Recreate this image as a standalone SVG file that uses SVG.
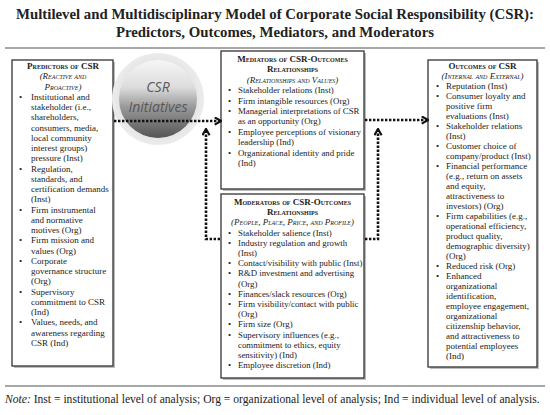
<svg xmlns="http://www.w3.org/2000/svg" width="550" height="415" viewBox="0 0 550 415">
<defs>
<style>
.t{font-family:"Liberation Serif","Times New Roman",serif;font-size:9px;fill:#222}
.m{font-size:8.8px}
.h{font-weight:bold;font-variant:small-caps;text-anchor:middle}
.s{font-style:italic;font-variant:small-caps;text-anchor:middle}
.box{fill:#fff;stroke:#333;stroke-width:1.3}
.sh{fill:#bdbdbd}
.dot{stroke:#111;stroke-width:2.6;stroke-dasharray:2.4 1.6;fill:none}
.rule{stroke:#8a8a8a;stroke-width:1.6}
.ttl{font-family:"Liberation Serif","Times New Roman",serif;font-size:14.8px;font-weight:bold;fill:#222;text-anchor:middle}
.ci{font-family:"Open Sans","Liberation Sans",sans-serif;font-size:14px;font-style:italic;fill:#585858;text-anchor:middle}
</style>
<linearGradient id="sph" x1="0" y1="0" x2="0" y2="1">
<stop offset="0" stop-color="#f6f6f6"/>
<stop offset="0.35" stop-color="#dcdcdc"/>
<stop offset="0.6" stop-color="#9a9a9a"/>
<stop offset="1" stop-color="#555"/>
</linearGradient>
<radialGradient id="ring" cx="0.5" cy="0.5" r="0.5">
<stop offset="0.8" stop-color="#e4e4e4"/>
<stop offset="1" stop-color="#ececec"/>
</radialGradient>
<marker id="arr" viewBox="0 0 10 10" refX="8.5" refY="5" markerWidth="9" markerHeight="9" markerUnits="userSpaceOnUse" orient="auto">
<path d="M1.5,1 L8.5,5 L1.5,9" fill="none" stroke="#111" stroke-width="2.4"/>
</marker>
</defs>
<rect width="550" height="415" fill="#fff"/>
<g id="title">
<text class="ttl" x="275" y="19">Multilevel and Multidisciplinary Model of Corporate Social Responsibility (CSR):</text>
<text class="ttl" x="275" y="37">Predictors, Outcomes, Mediators, and Moderators</text>
<line class="rule" x1="5" y1="48" x2="545" y2="48"/>
</g>
<g id="predictors">
<rect class="sh" x="14" y="62" width="101" height="306"/>
<rect class="box" x="12" y="60" width="101" height="306"/>
<text class="t h" x="63" y="69">Predictors of CSR</text>
<text class="t s" x="63" y="79.25">(Reactive and</text>
<text class="t s" x="63" y="89.5">Proactive)</text>
<text class="t"><tspan x="19" y="99.75">•</tspan><tspan x="19" y="171.5">•</tspan><tspan x="19" y="212.5">•</tspan><tspan x="19" y="243.25">•</tspan><tspan x="19" y="263.75">•</tspan><tspan x="19" y="294.5">•</tspan><tspan x="19" y="325.25">•</tspan></text>
<text class="t"><tspan x="31" y="99.75">Institutional and</tspan><tspan x="31" y="110">stakeholder (i.e.,</tspan><tspan x="31" y="120.25">shareholders,</tspan><tspan x="31" y="130.5">consumers, media,</tspan><tspan x="31" y="140.75">local community</tspan><tspan x="31" y="151">interest groups)</tspan><tspan x="31" y="161.25">pressure (Inst)</tspan><tspan x="31" y="171.5">Regulation,</tspan><tspan x="31" y="181.75">standards, and</tspan><tspan x="31" y="192">certification demands</tspan><tspan x="31" y="202.25">(Inst)</tspan><tspan x="31" y="212.5">Firm instrumental</tspan><tspan x="31" y="222.75">and normative</tspan><tspan x="31" y="233">motives (Org)</tspan><tspan x="31" y="243.25">Firm mission and</tspan><tspan x="31" y="253.5">values (Org)</tspan><tspan x="31" y="263.75">Corporate</tspan><tspan x="31" y="274">governance structure</tspan><tspan x="31" y="284.25">(Org)</tspan><tspan x="31" y="294.5">Supervisory</tspan><tspan x="31" y="304.75">commitment to CSR</tspan><tspan x="31" y="315">(Ind)</tspan><tspan x="31" y="325.25">Values, needs, and</tspan><tspan x="31" y="335.5">awareness regarding</tspan><tspan x="31" y="345.75">CSR (Ind)</tspan></text>
</g>
<g id="csr-initiatives">
<circle cx="158" cy="99" r="46" fill="url(#ring)"/>
<circle cx="158" cy="99" r="39" fill="url(#sph)"/>
<text class="ci" x="158" y="92">CSR</text>
<text class="ci" x="158" y="112">Initiatives</text>
</g>
<g id="mediators">
<rect class="sh" x="223" y="53" width="143" height="138"/>
<rect class="box" x="221" y="51" width="143" height="138"/>
<text class="t h" x="292.5" y="62">Mediators of CSR-Outcomes</text>
<text class="t h" x="292.5" y="72.4">Relationships</text>
<text class="t s" x="292.5" y="82.8">(Relationships and Values)</text>
<text class="t"><tspan x="228" y="93.2">•</tspan><tspan x="228" y="103.6">•</tspan><tspan x="228" y="114">•</tspan><tspan x="228" y="134.8">•</tspan><tspan x="228" y="155.6">•</tspan></text>
<text class="t m"><tspan x="238" y="93.2">Stakeholder relations (Inst)</tspan><tspan x="238" y="103.6">Firm intangible resources (Org)</tspan><tspan x="238" y="114">Managerial interpretations of CSR</tspan><tspan x="238" y="124.4">as an opportunity (Org)</tspan><tspan x="238" y="134.8">Employee perceptions of visionary</tspan><tspan x="238" y="145.2">leadership (Ind)</tspan><tspan x="238" y="155.6">Organizational identity and pride</tspan><tspan x="238" y="166">(Ind)</tspan></text>
</g>
<g id="moderators">
<rect class="sh" x="223" y="196" width="143" height="184"/>
<rect class="box" x="221" y="194" width="143" height="184"/>
<text class="t h" x="292.5" y="205">Moderators of CSR-Outcomes</text>
<text class="t h" x="292.5" y="215.2">Relationships</text>
<text class="t s" x="292.5" y="225.4">(People, Place, Price, and Profile)</text>
<text class="t"><tspan x="228" y="235.6">•</tspan><tspan x="228" y="245.8">•</tspan><tspan x="228" y="266.2">•</tspan><tspan x="228" y="276.4">•</tspan><tspan x="228" y="296.8">•</tspan><tspan x="228" y="307">•</tspan><tspan x="228" y="327.4">•</tspan><tspan x="228" y="337.6">•</tspan><tspan x="228" y="368.2">•</tspan></text>
<text class="t m"><tspan x="238" y="235.6">Stakeholder salience (Inst)</tspan><tspan x="238" y="245.8">Industry regulation and growth</tspan><tspan x="238" y="256">(Inst)</tspan><tspan x="238" y="266.2">Contact/visibility with public (Inst)</tspan><tspan x="238" y="276.4">R&amp;D investment and advertising</tspan><tspan x="238" y="286.6">(Org)</tspan><tspan x="238" y="296.8">Finances/slack resources (Org)</tspan><tspan x="238" y="307">Firm visibility/contact with public</tspan><tspan x="238" y="317.2">(Org)</tspan><tspan x="238" y="327.4">Firm size (Org)</tspan><tspan x="238" y="337.6">Supervisory influences (e.g.,</tspan><tspan x="238" y="347.8">commitment to ethics, equity</tspan><tspan x="238" y="358">sensitivity) (Ind)</tspan><tspan x="238" y="368.2">Employee discretion (Ind)</tspan></text>
</g>
<g id="outcomes">
<rect class="sh" x="430" y="62" width="109" height="307"/>
<rect class="box" x="428" y="60" width="109" height="307"/>
<text class="t h" x="482.5" y="69">Outcomes of CSR</text>
<text class="t s" x="482.5" y="79">(Internal and External)</text>
<text class="t"><tspan x="436" y="89">•</tspan><tspan x="436" y="99">•</tspan><tspan x="436" y="129">•</tspan><tspan x="436" y="149">•</tspan><tspan x="436" y="169">•</tspan><tspan x="436" y="219">•</tspan><tspan x="436" y="269">•</tspan><tspan x="436" y="279">•</tspan></text>
<text class="t"><tspan x="446" y="89">Reputation (Inst)</tspan><tspan x="446" y="99">Consumer loyalty and</tspan><tspan x="446" y="109">positive firm</tspan><tspan x="446" y="119">evaluations (Inst)</tspan><tspan x="446" y="129">Stakeholder relations</tspan><tspan x="446" y="139">(Inst)</tspan><tspan x="446" y="149">Customer choice of</tspan><tspan x="446" y="159">company/product (Inst)</tspan><tspan x="446" y="169">Financial performance</tspan><tspan x="446" y="179">(e.g., return on assets</tspan><tspan x="446" y="189">and equity,</tspan><tspan x="446" y="199">attractiveness to</tspan><tspan x="446" y="209">investors) (Org)</tspan><tspan x="446" y="219">Firm capabilities (e.g.,</tspan><tspan x="446" y="229">operational efficiency,</tspan><tspan x="446" y="239">product quality,</tspan><tspan x="446" y="249">demographic diversity)</tspan><tspan x="446" y="259">(Org)</tspan><tspan x="446" y="269">Reduced risk (Org)</tspan><tspan x="446" y="279">Enhanced</tspan><tspan x="446" y="289">organizational</tspan><tspan x="446" y="299">identification,</tspan><tspan x="446" y="309">employee engagement,</tspan><tspan x="446" y="319">organizational</tspan><tspan x="446" y="329">citizenship behavior,</tspan><tspan x="446" y="339">and attractiveness to</tspan><tspan x="446" y="349">potential employees</tspan><tspan x="446" y="359">(Ind)</tspan></text>
</g>
<g id="connectors">
<path class="dot" d="M114,121 H221" marker-end="url(#arr)"/>
<path class="dot" d="M365,120 H428" marker-end="url(#arr)"/>
<path class="dot" d="M220,239 H206 V129" marker-end="url(#arr)"/>
<path class="dot" d="M365,239 H378 V129" marker-end="url(#arr)"/>
</g>
<g id="note">
<line class="rule" x1="5" y1="386" x2="545" y2="386"/>
<text x="5" y="403" style="font-family:'Liberation Serif','Times New Roman',serif;font-size:11.6px;fill:#222"><tspan font-style="italic">Note:</tspan> Inst = institutional level of analysis; Org = organizational level of analysis; Ind = individual level of analysis.</text>
</g>
</svg>
